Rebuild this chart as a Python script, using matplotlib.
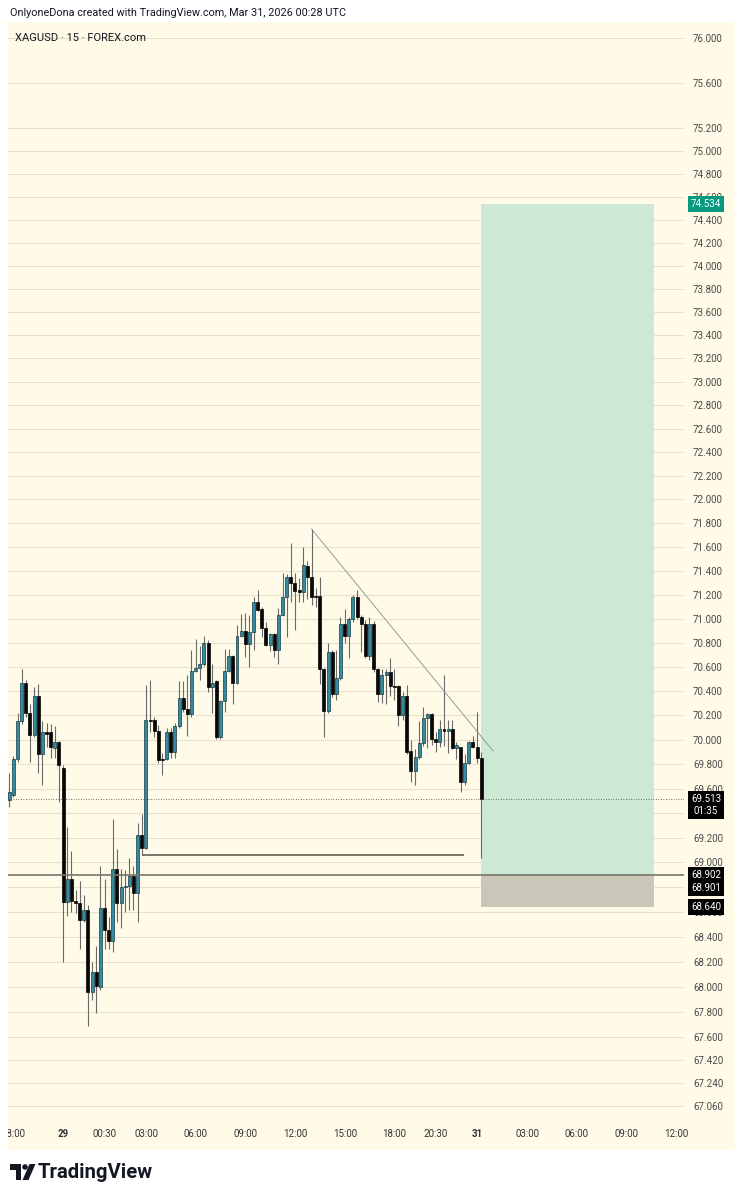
import matplotlib
matplotlib.use("Agg")
import matplotlib.pyplot as plt
import numpy as np
from matplotlib.patches import Rectangle, Polygon, Circle
from matplotlib.transforms import blended_transform_factory
from matplotlib.ticker import FixedLocator, FixedFormatter, NullLocator

plt.rcParams['font.family'] = ['Roboto', 'DejaVu Sans']

# XAGUSD 15m candles, Fri 17:45 -> Tue 00:15 UTC (bar index = position on the chart)
opens = [69.51, 69.55, 69.84, 70.15, 70.47, 70.22, 70.04, 70.36, 69.88, 70.06,
         70.06, 69.93, 69.98, 69.77, 68.68, 68.87, 68.69, 68.67, 68.54, 68.62,
         67.96, 68.12, 68.00, 68.63, 68.46, 68.37, 68.95, 68.67, 68.80, 68.81,
         68.89, 68.75, 69.22, 69.12, 70.16, 70.16, 70.07, 69.84, 69.84, 70.06,
         69.90, 70.11, 70.34, 70.25, 70.21, 70.57, 70.59, 70.62, 70.80, 70.43,
         70.48, 70.02, 70.32, 70.57, 70.69, 70.47, 70.86, 70.90, 70.79, 70.89,
         71.14, 71.08, 70.92, 70.78, 70.87, 70.74, 71.03, 71.18, 71.35, 71.30,
         71.24, 71.22, 71.44, 71.35, 71.19, 71.19, 70.58, 70.24, 70.72, 70.38,
         70.51, 70.96, 70.86, 71.00, 71.18, 71.01, 70.96, 70.69, 70.96, 70.58,
         70.38, 70.53, 70.56, 70.44, 70.44, 70.20, 70.36, 69.91, 69.74, 69.86,
         69.97, 70.18, 70.21, 70.01, 69.98, 70.09, 70.07, 70.09, 69.93, 69.94,
         69.65, 69.81, 69.98, 69.94, 69.85]
highs = [69.73, 69.87, 70.22, 70.58, 70.49, 70.29, 70.43, 70.46, 70.15, 70.14,
         70.13, 70.11, 69.99, 69.79, 69.29, 69.09, 68.78, 68.85, 68.74, 68.66,
         68.20, 68.33, 68.97, 68.87, 68.56, 69.35, 69.11, 68.95, 68.94, 69.04,
         68.97, 69.32, 69.39, 70.45, 70.49, 70.19, 70.12, 69.89, 70.10, 70.10,
         70.14, 70.48, 70.48, 70.53, 70.74, 70.83, 70.77, 70.86, 70.82, 70.62,
         70.49, 70.33, 70.75, 70.75, 70.70, 70.95, 71.04, 71.05, 71.03, 71.18,
         71.24, 71.10, 70.97, 70.88, 70.88, 71.09, 71.38, 71.37, 71.63, 71.38,
         71.34, 71.60, 71.48, 71.75, 71.26, 71.35, 70.59, 70.80, 70.74, 70.74,
         71.01, 71.08, 71.01, 71.20, 71.24, 71.03, 70.99, 71.01, 70.98, 70.59,
         70.58, 70.58, 70.67, 70.58, 70.45, 70.39, 70.45, 70.00, 69.92, 70.15,
         70.27, 70.22, 70.22, 70.06, 70.16, 70.53, 70.16, 70.16, 69.98, 69.94,
         69.88, 69.99, 70.03, 70.23, 69.90]
lows = [69.45, 69.53, 69.82, 70.13, 70.19, 69.82, 70.02, 69.73, 69.63, 69.94,
        69.85, 69.85, 69.49, 68.20, 68.57, 68.60, 68.59, 68.30, 68.52, 67.69,
        67.90, 67.79, 67.98, 68.30, 68.30, 68.28, 68.52, 68.47, 68.60, 68.62,
        68.62, 68.52, 69.06, 69.11, 70.06, 70.02, 69.81, 69.71, 69.83, 69.85,
        69.85, 70.10, 70.23, 70.03, 70.19, 70.56, 70.49, 70.61, 70.39, 70.22,
        70.01, 70.01, 70.23, 70.56, 70.29, 70.46, 70.85, 70.68, 70.60, 70.74,
        71.06, 70.85, 70.77, 70.73, 70.68, 70.62, 71.02, 70.85, 71.14, 70.91,
        71.14, 71.14, 71.16, 71.11, 71.10, 70.46, 70.02, 70.22, 70.35, 70.33,
        70.49, 70.80, 70.67, 70.97, 71.00, 70.72, 70.67, 70.66, 70.56, 70.31,
        70.30, 70.29, 70.36, 70.33, 70.11, 70.16, 69.88, 69.65, 69.63, 69.84,
        69.95, 69.93, 69.96, 69.90, 69.94, 69.95, 69.89, 69.92, 69.84, 69.57,
        69.63, 69.80, 69.93, 69.81, 69.04]
closes = [69.57, 69.84, 70.15, 70.47, 70.22, 70.04, 70.36, 69.88, 70.06, 70.05,
          69.94, 69.98, 69.79, 68.68, 68.87, 68.69, 68.67, 68.54, 68.62, 67.96,
          68.12, 68.01, 68.63, 68.46, 68.37, 68.95, 68.67, 68.80, 68.81, 68.89,
          68.75, 69.22, 69.12, 70.16, 70.15, 70.07, 69.83, 69.83, 70.06, 69.90,
          70.11, 70.34, 70.25, 70.21, 70.57, 70.59, 70.62, 70.80, 70.43, 70.47,
          70.02, 70.32, 70.57, 70.69, 70.47, 70.86, 70.90, 70.79, 70.89, 71.14,
          71.07, 70.92, 70.78, 70.87, 70.74, 71.03, 71.18, 71.35, 71.30, 71.23,
          71.22, 71.45, 71.35, 71.18, 71.18, 70.58, 70.24, 70.72, 70.38, 70.51,
          70.96, 70.86, 71.00, 71.18, 71.01, 70.96, 70.69, 70.96, 70.58, 70.38,
          70.53, 70.56, 70.44, 70.43, 70.20, 70.36, 69.90, 69.74, 69.86, 69.97,
          70.18, 70.21, 70.01, 69.98, 70.09, 70.07, 70.09, 69.93, 69.96, 69.65,
          69.81, 69.98, 69.94, 69.85, 69.513]

# time axis labels (bar index, text)
time_pos = [1, 13, 23, 33, 45, 57, 69, 81, 93, 103, 113, 125, 137, 149, 161]
time_lbl = ['18:00', '29', '00:30', '03:00', '06:00', '09:00', '12:00', '15:00',
            '18:00', '20:30', '31', '03:00', '06:00', '09:00', '12:00']
bold_lbl = ['29', '31']

# price scale labels ('' = hidden behind a price tag)
price_ticks = [76.0, 75.6, 75.2, 75.0, 74.8, 74.6, 74.4, 74.2, 74.0, 73.8, 73.6,
               73.4, 73.2, 73.0, 72.8, 72.6, 72.4, 72.2, 72.0, 71.8, 71.6, 71.4,
               71.2, 71.0, 70.8, 70.6, 70.4, 70.2, 70.0, 69.8, 69.6, 69.4, 69.2,
               69.0, 68.8, 68.6, 68.4, 68.2, 68.0, 67.8, 67.6, 67.42, 67.24, 67.06]
hidden_ticks = [69.4, 68.8]

# drawings
target = 74.534
entry = 68.902
stop = 68.640
last_price = 69.513
countdown = '01:35'
pos_x = [114, 155.7]
trend_x = [73, 116.8]
trend_y = [71.75, 69.91]
level = 69.06
level_x = [32, 109.8]

cream = '#fffbe8'
gridc = '#e6e2cd'
teal = '#2f8ca3'
W, H = 742, 1200


def frac(x0, y0, x1, y1):
    return [x0 / W, 1 - y1 / H, (x1 - x0) / W, (y1 - y0) / H]


fig = plt.figure(figsize=(W / 100, H / 100), dpi=100)
fig.patch.set_facecolor('white')

# background layer in pixel coordinates
bg = fig.add_axes([0, 0, 1, 1], zorder=0)
bg.set_xlim(0, W)
bg.set_ylim(H, 0)
bg.axis('off')
bg.add_patch(Rectangle((8, 22), 727, 1128, facecolor=cream, edgecolor='none'))
bg.text(10, 13, 'OnlyoneDona created with TradingView.com, Mar 31, 2026 00:28 UTC',
        fontsize=7.8, color='#131722', va='center', ha='left')

# TradingView logo
dark = '#131722'
bg.add_patch(Polygon([(10, 1164), (21, 1164), (21, 1180), (15.5, 1180), (15.5, 1169.5), (10, 1169.5)],
                     closed=True, facecolor=dark, edgecolor='none'))
bg.add_patch(Circle((25, 1167), 2.8, facecolor=dark, edgecolor='none'))
bg.add_patch(Polygon([(22.5, 1180), (28.5, 1180), (35.5, 1164), (29.5, 1164)],
                     closed=True, facecolor=dark, edgecolor='none'))
bg.text(38, 1172, 'TradingView', fontsize=14.6, fontweight='bold', color=dark,
        va='center', ha='left')

# main price pane
ax = fig.add_axes(frac(8, 22, 684, 1122), zorder=1)
ax.set_facecolor(cream)
ax.set_yscale('log')
ax.set_ylim(66.933, 76.143)
ax.set_xlim(-0.31, 162.97)
for s in ax.spines.values():
    s.set_visible(False)
ax.set_xticks([])

ax.yaxis.set_major_locator(FixedLocator(price_ticks))
ax.yaxis.set_major_formatter(FixedFormatter(
    ['' if v in hidden_ticks else f'{v:.3f}' for v in price_ticks]))
ax.yaxis.set_minor_locator(NullLocator())
ax.yaxis.tick_right()
ax.tick_params(axis='y', length=0, pad=6.5, labelsize=7, labelcolor='#4a4a4a')
ax.grid(axis='y', color=gridc, lw=0.8)
ax.set_axisbelow(True)

ax.text(0.01, 76.0, 'XAGUSD · 15 · FOREX.com', fontsize=8.0, color='#131722',
        va='center', ha='left', transform=blended_transform_factory(ax.transAxes, ax.transData))

# long position box
ax.add_patch(Rectangle((pos_x[0], entry), pos_x[1] - pos_x[0], target - entry,
                       facecolor='#cde8d4', edgecolor='none', zorder=1))
ax.add_patch(Rectangle((pos_x[0], stop), pos_x[1] - pos_x[0], entry - stop,
                       facecolor='#cbc7b8', edgecolor='none', zorder=1))

# candles
o = np.array(opens)
h = np.array(highs)
l = np.array(lows)
c = np.array(closes)
x = np.arange(len(o))
up = c >= o
ax.vlines(x, l, h, color='#6a6a6a', lw=0.8, zorder=2)
bottoms = np.minimum(o, c)
heights = np.maximum(np.abs(c - o), 0.012)
ax.bar(x[up], heights[up], bottom=bottoms[up], width=0.72, color=teal,
       edgecolor='#1a3a40', linewidth=0.5, zorder=3)
ax.bar(x[~up], heights[~up], bottom=bottoms[~up], width=0.72, color='#080808',
       edgecolor='#000000', linewidth=0.5, zorder=3)

# lines
ax.axhline(entry, color='#77756c', lw=1.2, zorder=4)
ax.hlines(level, level_x[0], level_x[1], color='#6f6c63', lw=1.3, zorder=4)
ax.plot(trend_x, trend_y, color='#8c8c86', lw=0.6, zorder=4)
ax.axhline(last_price, color='#444444', lw=0.6, ls=(0, (1, 2)), zorder=4)

# price scale tags
bt = blended_transform_factory(ax.transAxes, ax.transData)
tx = 1.0325
box = dict(boxstyle='square,pad=0.3', facecolor='#000000', edgecolor='none')
ax.text(tx, target, f'{target:.3f}', transform=bt, ha='center', va='center', fontsize=7,
        color='white', zorder=6,
        bbox=dict(boxstyle='square,pad=0.3', facecolor='#089981', edgecolor='none'))
ax.annotate(f'{last_price:.3f}\n{countdown}', xy=(tx, last_price), xycoords=bt,
            xytext=(0, -4.3), textcoords='offset points', ha='center', va='center',
            fontsize=7, color='white', linespacing=1.25, zorder=6, bbox=box)
ax.text(tx, entry, f'{entry:.3f}', transform=bt, ha='center', va='center', fontsize=7,
        color='white', zorder=6, bbox=box)
ax.annotate(f'{entry - 0.001:.3f}', xy=(tx, entry), xycoords=bt, xytext=(0, -9.4),
            textcoords='offset points', ha='center', va='center', fontsize=7,
            color='white', zorder=6, bbox=box)
ax.text(tx, stop, f'{stop:.3f}', transform=bt, ha='center', va='center', fontsize=7,
        color='white', zorder=6, bbox=box)

# time axis (clipped on the left edge only)
tax = fig.add_axes(frac(8, 1122, 735, 1148), zorder=1)
tax.set_xlim(-0.31, -0.31 + (735 - 8) / 4.1434)
tax.set_ylim(0, 1)
tax.axis('off')
for p, t in zip(time_pos, time_lbl):
    tax.text(p, 0.55, t, ha='center', va='center', fontsize=7, color='#333333',
             fontweight='bold' if t in bold_lbl else 'normal', clip_on=True)

fig.savefig('out.png', dpi=100)
